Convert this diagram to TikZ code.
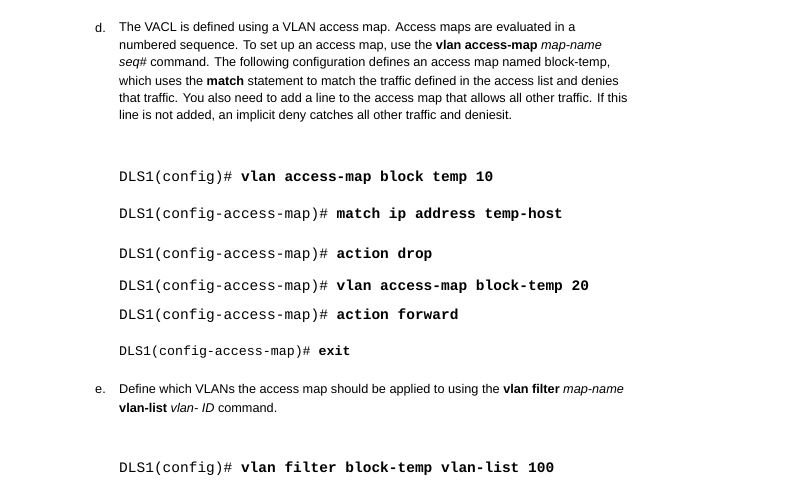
\documentclass[tikz,border=0pt]{standalone}
\usepackage{fontspec}
\setmainfont{Liberation Sans}
\setmonofont{Liberation Mono}
\begin{document}
\begin{tikzpicture}[x=1pt,y=-1pt,
  body/.style={anchor=west,inner sep=0pt,font=\fontsize{12.7}{14}\selectfont},
  code/.style={anchor=west,inner sep=0pt,font=\fontsize{14.5}{16}\ttfamily},
  codes/.style={anchor=west,inner sep=0pt,font=\fontsize{13.3}{15}\ttfamily}]
\useasboundingbox (0,0) rectangle (797,493);
\node[body] (d) at (95,28) {d.};
\node[body] (t1) at (119,28) {The VACL is defined using a VLAN access map. Access maps are evaluated in a};
\node[body] (t2) at (119,46) {numbered sequence. To set up an access map, use the \textbf{vlan access-map} \textit{map-name}};
\node[body] (t3) at (119,63) {\textit{seq\#} command. The following configuration defines an access map named block-temp,};
\node[body] (t4) at (119,81) {which uses the \textbf{match} statement to match the traffic defined in the access list and denies};
\node[body] (t5) at (119,99) {that traffic. You also need to add a line to the access map that allows all other traffic. If this};
\node[body] (t6) at (119,116) {line is not added, an implicit deny catches all other traffic and deniesit.};
\node[code] (c1) at (119,178) {DLS1(config)\# \textbf{vlan access-map block temp 10}};
\node[code] (c2) at (119,215) {DLS1(config-access-map)\# \textbf{match ip address temp-host}};
\node[code] (c3) at (119,255) {DLS1(config-access-map)\# \textbf{action drop}};
\node[code] (c4) at (119,287) {DLS1(config-access-map)\# \textbf{vlan access-map block-temp 20}};
\node[code] (c5) at (119,316) {DLS1(config-access-map)\# \textbf{action forward}};
\node[codes] (c6) at (119,352) {DLS1(config-access-map)\# \textbf{exit}};
\node[body] (e) at (95,390) {e.};
\node[body] (e1) at (119,390) {Define which VLANs the access map should be applied to using the \textbf{vlan filter} \textit{map-name}};
\node[body] (e2) at (119,408) {\textbf{vlan-list} \textit{vlan- ID} command.};
\node[code] (c7) at (119,469) {DLS1(config)\# \textbf{vlan filter block-temp vlan-list 100}};
\end{tikzpicture}
\end{document}
